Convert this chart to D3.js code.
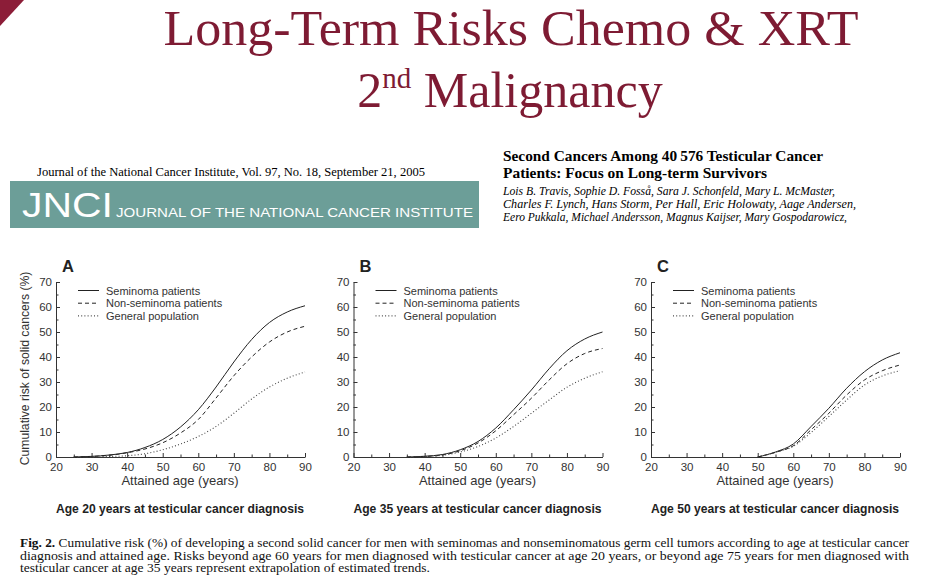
<!DOCTYPE html>
<html>
<head>
<meta charset="utf-8">
<script src="https://cdn.jsdelivr.net/npm/d3@7"></script>
<style>
  body { margin: 0; background: #fff; }
  svg { display: block; }
</style>
</head>
<body>
<script>
// attained age grid (years)
const ages = [20, 25, 30, 35, 40, 45, 50, 55, 60, 65, 70, 75, 80, 85, 90];
const xTicks = [20, 30, 40, 50, 60, 70, 80, 90];
const yTicks = [0, 10, 20, 30, 40, 50, 60, 70];

// cumulative risk (%), null = not drawn
const seminomaA    = [null, 0, 0.25, 0.8, 1.8, 3.8, 7.0, 12, 18.9, 28, 38, 47, 53.8, 58, 60.5];
const nonSeminomaA = [null, 0, 0.2, 0.7, 1.7, 3.2, 5.7, 9.6, 15, 23.6, 32.5, 40, 46, 50, 52.3];
const generalA     = [null, 0, 0.05, 0.2, 0.5, 1.3, 2.9, 5.2, 8.2, 12.2, 17.5, 23.2, 28, 31.5, 34];

const seminomaB    = [null, null, null, 0, 0.3, 1.0, 2.9, 6.2, 11.6, 18.9, 26.8, 35.3, 42.5, 47.2, 50];
const nonSeminomaB = [null, null, null, 0, 0.2, 0.8, 2.5, 5.6, 10.5, 16.9, 23.5, 30.8, 37.3, 41.4, 43.4];
const generalB     = [null, null, null, 0, 0.2, 0.7, 2.0, 4.2, 7.6, 12.2, 17.5, 22.8, 27.9, 31.5, 34.1];

const seminomaC    = [null, null, null, null, null, null, 0, 2.0, 5.2, 12.2, 19.5, 27.5, 34.1, 38.8, 41.7];
const nonSeminomaC = [null, null, null, null, null, null, 0, 1.9, 4.5, 10.9, 17.5, 24.8, 30.8, 34.5, 36.8];
const generalC     = [null, null, null, null, null, null, 0, 1.8, 4.3, 9.8, 16.2, 22.8, 28.8, 32.4, 34.5];

const seriesNames = ["Seminoma patients", "Non-seminoma patients", "General population"];
const panelLetters = ["A", "B", "C"];
const panelTitles = [
  "Age 20 years at testicular cancer diagnosis",
  "Age 35 years at testicular cancer diagnosis",
  "Age 50 years at testicular cancer diagnosis"
];
const panelSeries = [
  [seminomaA, nonSeminomaA, generalA],
  [seminomaB, nonSeminomaB, generalB],
  [seminomaC, nonSeminomaC, generalC]
];

const captionLines = [
  "Cumulative risk (%) of developing a second solid cancer for men with seminomas and nonseminomatous germ cell tumors according to age at testicular cancer",
  "diagnosis and attained age. Risks beyond age 60 years for men diagnosed with testicular cancer at age 20 years, or beyond age 75 years for men diagnosed with",
  "testicular cancer at age 35 years represent extrapolation of estimated trends."
];
const authorLines = [
  "Lois B. Travis, Sophie D. Fosså, Sara J. Schonfeld, Mary L. McMaster,",
  "Charles F. Lynch, Hans Storm, Per Hall, Eric Holowaty, Aage Andersen,",
  "Eero Pukkala, Michael Andersson, Magnus Kaijser, Mary Gospodarowicz,"
];

const width = 930, height = 585;
const maroon = "#7e1b33";
const serif = "'Liberation Serif', 'Times New Roman', serif";
const sans = "'Liberation Sans', Arial, sans-serif";
const dashes = [null, "4,3", "1,2.2"];

const svg = d3.select("body").append("svg")
  .attr("width", width)
  .attr("height", height);

svg.append("rect").attr("width", width).attr("height", height).attr("fill", "#fff");

// corner decoration
svg.append("path")
  .attr("d", "M0,0L24,0L0,26Z")
  .attr("fill", "#8c1d38");

// slide title
const title = svg.append("g")
  .attr("font-family", serif)
  .attr("fill", maroon)
  .attr("text-anchor", "middle");
title.append("text")
  .attr("x", 511).attr("y", 45)
  .attr("font-size", 50)
  .attr("textLength", 695).attr("lengthAdjust", "spacingAndGlyphs")
  .text("Long-Term Risks Chemo & XRT");
const t2 = title.append("text")
  .attr("x", 510).attr("y", 107)
  .attr("font-size", 50);
t2.append("tspan").text("2");
t2.append("tspan").attr("font-size", 29).attr("dy", -19).text("nd");
t2.append("tspan").attr("dy", 19).text(" Malignancy");

// journal header
svg.append("text")
  .attr("x", 37).attr("y", 176)
  .attr("font-family", serif).attr("font-size", 12)
  .attr("textLength", 388).attr("lengthAdjust", "spacingAndGlyphs")
  .text("Journal of the National Cancer Institute, Vol. 97, No. 18, September 21, 2005");

svg.append("rect")
  .attr("x", 10).attr("y", 181)
  .attr("width", 469).attr("height", 47)
  .attr("fill", "#6c9e98");
svg.append("text")
  .attr("x", 22).attr("y", 217)
  .attr("font-family", sans).attr("font-size", 35)
  .attr("fill", "#fff")
  .attr("textLength", 91).attr("lengthAdjust", "spacingAndGlyphs")
  .text("JNCI");
svg.append("text")
  .attr("x", 116).attr("y", 217)
  .attr("font-family", sans).attr("font-size", 13)
  .attr("fill", "#fff")
  .attr("textLength", 357).attr("lengthAdjust", "spacingAndGlyphs")
  .text("JOURNAL OF THE NATIONAL CANCER INSTITUTE");

// article header
svg.append("text")
  .attr("x", 503).attr("y", 161)
  .attr("font-family", serif).attr("font-size", 14.5).attr("font-weight", "bold")
  .attr("textLength", 320).attr("lengthAdjust", "spacingAndGlyphs")
  .text("Second Cancers Among 40\u2009576 Testicular Cancer");
svg.append("text")
  .attr("x", 503).attr("y", 178)
  .attr("font-family", serif).attr("font-size", 14.5).attr("font-weight", "bold")
  .attr("textLength", 264).attr("lengthAdjust", "spacingAndGlyphs")
  .text("Patients: Focus on Long-term Survivors");
const authorEnds = [835, 856, 847];
authorLines.forEach((line, i) => {
  svg.append("text")
    .attr("x", 503).attr("y", 195 + i * 13)
    .attr("font-family", serif).attr("font-size", 11.5).attr("font-style", "italic")
    .attr("textLength", authorEnds[i] - 503).attr("lengthAdjust", "spacingAndGlyphs")
    .text(line);
});

// panels
const panelLeft = [56, 353.5, 651];
const panelWidth = 249;
const y = d3.scaleLinear().domain([0, 70]).range([457, 282]);

panelSeries.forEach((series, p) => {
  const x = d3.scaleLinear().domain([20, 90]).range([panelLeft[p], panelLeft[p] + panelWidth]);
  const g = svg.append("g").attr("font-family", sans);

  // minor ticks every 5
  g.append("g")
    .attr("transform", `translate(0,${y(0)})`)
    .call(d3.axisBottom(x).tickValues(d3.range(25, 90, 10)).tickSize(-2.5).tickFormat(""))
    .call(a => a.select(".domain").remove());
  g.append("g")
    .attr("transform", `translate(${x(20)},0)`)
    .call(d3.axisLeft(y).tickValues(d3.range(5, 70, 10)).tickSize(-2.5).tickFormat(""))
    .call(a => a.select(".domain").remove());

  const xAxis = g.append("g")
    .attr("transform", `translate(0,${y(0)})`)
    .call(d3.axisBottom(x).tickValues(xTicks).tickSizeInner(-4).tickSizeOuter(0).tickPadding(4));
  const yAxis = g.append("g")
    .attr("transform", `translate(${x(20)},0)`)
    .call(d3.axisLeft(y).tickValues(yTicks).tickSizeInner(-4).tickSizeOuter(0).tickPadding(4));
  [xAxis, yAxis].forEach(a => {
    a.selectAll("path, line").attr("stroke", "#333").attr("stroke-width", 1);
    a.selectAll("text").attr("fill", "#333").attr("font-size", 11.5).attr("font-family", sans);
  });
  yAxis.selectAll(".tick text").attr("x", -4);
  xAxis.selectAll(".tick text").attr("y", 6);
  g.selectAll(".tick line").attr("stroke", "#333");

  // curves
  const line = d3.line()
    .defined(d => d[1] !== null)
    .x(d => x(d[0]))
    .y(d => y(d[1]))
    .curve(d3.curveMonotoneX);
  series.forEach((vals, s) => {
    g.append("path")
      .datum(ages.map((a, i) => [a, vals[i]]))
      .attr("d", line)
      .attr("fill", "none")
      .attr("stroke", s === 2 ? "#444" : "#222")
      .attr("stroke-width", s === 2 ? 1.1 : 1)
      .attr("stroke-dasharray", dashes[s]);
  });

  // legend
  const lx = panelLeft[p] + 22;
  seriesNames.forEach((name, s) => {
    const ly = 290.5 + s * 12.7;
    g.append("line")
      .attr("x1", lx).attr("x2", lx + 21)
      .attr("y1", ly).attr("y2", ly)
      .attr("stroke", "#222").attr("stroke-width", 1)
      .attr("stroke-dasharray", dashes[s]);
    g.append("text")
      .attr("x", lx + 28).attr("y", ly + 4)
      .attr("font-size", 11).attr("fill", "#333")
      .text(name);
  });

  // panel letter
  g.append("text")
    .attr("x", panelLeft[p] + 6).attr("y", 272)
    .attr("font-size", 16.5).attr("font-weight", "bold").attr("fill", "#222")
    .text(panelLetters[p]);

  // x label and panel title
  const cx = panelLeft[p] + 124;
  g.append("text")
    .attr("x", cx).attr("y", 485)
    .attr("text-anchor", "middle")
    .attr("font-size", 13).attr("fill", "#333")
    .text("Attained age (years)");
  g.append("text")
    .attr("x", cx).attr("y", 513)
    .attr("text-anchor", "middle")
    .attr("font-size", 12.5).attr("font-weight", "bold").attr("fill", "#222")
    .attr("textLength", 248).attr("lengthAdjust", "spacingAndGlyphs")
    .text(panelTitles[p]);
});

// y axis label (panel A only)
svg.append("text")
  .attr("transform", `translate(29,${(y(0) + y(70)) / 2 - 1}) rotate(-90)`)
  .attr("text-anchor", "middle")
  .attr("font-family", sans).attr("font-size", 12.2).attr("fill", "#333")
  .text("Cumulative risk of solid cancers (%)");

// figure caption
const cap = svg.append("g").attr("font-family", serif).attr("font-size", 11.5).attr("fill", "#111");
const capEnds = [909, 909, 430];
captionLines.forEach((line, i) => {
  const t = cap.append("text")
    .attr("x", 20).attr("y", 547 + i * 12.6)
    .attr("textLength", capEnds[i] - 20).attr("lengthAdjust", "spacingAndGlyphs");
  if (i === 0) t.append("tspan").attr("font-weight", "bold").text("Fig. 2. ");
  t.append("tspan").text(line);
});
</script>
</body>
</html>
